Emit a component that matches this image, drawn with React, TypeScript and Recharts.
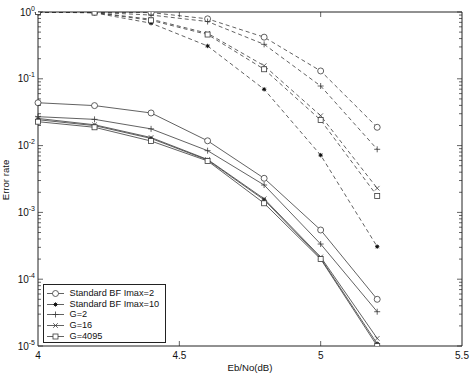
import React from "react"
import { LineChart, Line, XAxis, YAxis } from "recharts"

// Eb/No (dB) sample points
const ebno = [4, 4.2, 4.4, 4.6, 4.8, 5.0, 5.2]

// lower group (solid curves)
const imax2Solid = [0.0438, 0.0397, 0.0308, 0.0118, 0.00324, 5.45e-4, 5.0e-5]
const imax10Solid = [0.0244, 0.0199, 0.0128, 0.00608, 0.00154, 2.06e-4, 1.08e-5]
const g2Solid = [0.0271, 0.0247, 0.0178, 0.0084, 0.00257, 3.36e-4, 3.26e-5]
const g16Solid = [0.0255, 0.0205, 0.0132, 0.0062, 0.0016, 2.15e-4, 1.3e-5]
const g4095Solid = [0.0228, 0.0188, 0.0117, 0.0059, 0.00137, 2.0e-4, 1.0e-5]

// upper group (dashed curves)
const imax2Dash = [1, 0.99, 0.98, 0.79, 0.42, 0.131, 0.0188]
const imax10Dash = [1, 0.97, 0.68, 0.31, 0.0697, 0.0072, 3.07e-4]
const g2Dash = [1, 0.99, 0.9, 0.72, 0.328, 0.078, 0.0088]
const g16Dash = [1, 0.98, 0.78, 0.48, 0.157, 0.028, 0.0023]
const g4095Dash = [1, 0.98, 0.75, 0.46, 0.139, 0.0241, 0.00176]

const xTicks = [4, 4.5, 5, 5.5]
const topTicks = [4.5, 5]
const decades = [-5, -4, -3, -2, -1]
const yTicks = [...decades.flatMap((e) => [1, 2, 3, 4, 5, 6, 7, 8, 9].map((m) => m * Math.pow(10, e))), 1]

const series = [
  { key: "imax2", name: "Standard BF Imax=2", shape: "circle", solid: imax2Solid, dashed: imax2Dash },
  { key: "imax10", name: "Standard BF Imax=10", shape: "star", solid: imax10Solid, dashed: imax10Dash },
  { key: "g2", name: "G=2", shape: "plus", solid: g2Solid, dashed: g2Dash },
  { key: "g16", name: "G=16", shape: "x", solid: g16Solid, dashed: g16Dash },
  { key: "g4095", name: "G=4095", shape: "square", solid: g4095Solid, dashed: g4095Dash },
]

const data = ebno.map((x, i) => {
  const row: Record<string, number> = { x }
  series.forEach((s) => {
    row[s.key] = s.solid[i]
    row[s.key + "Dash"] = s.dashed[i]
  })
  return row
})

const INK = "#3a3a3a"
const AXIS = "#222"
const FONT = "'Liberation Sans', Arial, Helvetica, sans-serif"

function Marker({ shape, cx, cy }: { shape: string; cx: number; cy: number }) {
  const p = { stroke: INK, strokeWidth: 0.8, fill: "none" }
  if (shape === "circle") return <circle cx={cx} cy={cy} r={3} {...p} fill="#fff" />
  if (shape === "square") return <rect x={cx - 2.5} y={cy - 2.5} width={5} height={5} {...p} fill="#fff" />
  if (shape === "plus")
    return <path d={`M${cx - 3},${cy}H${cx + 3}M${cx},${cy - 3}V${cy + 3}`} {...p} />
  if (shape === "x")
    return (
      <path d={`M${cx - 2.3},${cy - 2.3}L${cx + 2.3},${cy + 2.3}M${cx - 2.3},${cy + 2.3}L${cx + 2.3},${cy - 2.3}`} {...p} />
    )
  // star: small asterisk
  return (
    <g>
      <circle cx={cx} cy={cy} r={1.3} fill="#111" />
      <path
        d={`M${cx - 2.2},${cy}H${cx + 2.2}M${cx},${cy - 2.2}V${cy + 2.2}M${cx - 1.6},${cy - 1.6}L${cx + 1.6},${cy + 1.6}M${cx - 1.6},${cy + 1.6}L${cx + 1.6},${cy - 1.6}`}
        stroke="#111"
        strokeWidth={0.9}
        fill="none"
      />
    </g>
  )
}

const isMajor = (v: number) => {
  const l = Math.log10(v)
  return Math.abs(l - Math.round(l)) < 1e-6
}

const LeftTick = (props: any) => {
  const { x, y, payload } = props
  const v = payload.value
  const major = isMajor(v)
  return (
    <g>
      <line x1={x} x2={x + (major ? 5 : 3)} y1={y} y2={y} stroke={AXIS} strokeWidth={0.7} />
      {major && (
        <text x={x - 3} y={y + 3.5} textAnchor="end" fontSize={10} fontFamily={FONT} fill="#111">
          10
          <tspan dy={-5} fontSize={7}>
            {Math.round(Math.log10(v))}
          </tspan>
        </text>
      )}
    </g>
  )
}

const RightTick = (props: any) => {
  const { x, y, payload } = props
  const major = isMajor(payload.value)
  return <line x1={x} x2={x - (major ? 5 : 3)} y1={y} y2={y} stroke={AXIS} strokeWidth={0.7} />
}

const BottomTick = (props: any) => {
  const { x, y, payload } = props
  const inner = payload.value > 4 && payload.value < 5.5
  return (
    <g>
      {inner && <line x1={x} x2={x} y1={y} y2={y - 5} stroke={AXIS} strokeWidth={0.7} />}
      <text x={x} y={y + 12.5} textAnchor="middle" fontSize={10} fontFamily={FONT} fill="#111">
        {payload.value}
      </text>
    </g>
  )
}

const TopTick = (props: any) => {
  const { x, y } = props
  return <line x1={x} x2={x} y1={y} y2={y + 5} stroke={AXIS} strokeWidth={0.7} />
}

function LegendBox() {
  return (
    <div
      style={{
        position: "absolute",
        left: 43,
        top: 284,
        width: 121,
        height: 57,
        border: "1px solid #222",
        background: "#fff",
        fontFamily: FONT,
        fontSize: 9.2,
        color: "#111",
      }}
    >
      {series.map((s, i) => (
        <div key={s.key} style={{ position: "absolute", left: 0, top: 3 + i * 10.7, height: 11, display: "flex", alignItems: "center" }}>
          <svg width={24} height={11} style={{ display: "block" }}>
            <line x1={3} x2={20} y1={5.5} y2={5.5} stroke={INK} strokeWidth={0.8} />
            <Marker shape={s.shape} cx={11.5} cy={5.5} />
          </svg>
          <span style={{ marginLeft: 1.5, whiteSpace: "nowrap", lineHeight: "11px" }}>{s.name}</span>
        </div>
      ))}
    </div>
  )
}

export default function App() {
  return (
    <div style={{ position: "absolute", left: 0, top: 0, width: 474, height: 374, background: "#fff" }}>
      <LineChart width={474} height={374} data={data} margin={{ top: 0, right: 0, bottom: 0, left: 0 }}>
        <XAxis
          xAxisId="bottom"
          dataKey="x"
          type="number"
          domain={[4, 5.5]}
          ticks={xTicks}
          interval={0}
          height={28}
          tickSize={0}
          tickMargin={0}
          tickLine={false}
          tick={<BottomTick />}
          axisLine={{ stroke: AXIS, strokeWidth: 1 }}
          label={{ value: "Eb/No(dB)", position: "insideBottom", offset: 3, fontSize: 9.6, fontFamily: FONT, fill: "#111" }}
        />
        <XAxis
          xAxisId="top"
          orientation="top"
          dataKey="x"
          type="number"
          domain={[4, 5.5]}
          ticks={topTicks}
          interval={0}
          height={12}
          tickSize={0}
          tickMargin={0}
          tickLine={false}
          tick={<TopTick />}
          axisLine={{ stroke: AXIS, strokeWidth: 1 }}
        />
        <YAxis
          yAxisId="left"
          scale="log"
          domain={[1e-5, 1]}
          allowDataOverflow
          ticks={yTicks}
          interval={0}
          width={38}
          tickSize={0}
          tickMargin={0}
          tickLine={false}
          tick={<LeftTick />}
          axisLine={{ stroke: AXIS, strokeWidth: 1 }}
          label={{
            content: () => (
              <text x={9} y={180} transform="rotate(-90,9,180)" textAnchor="middle" fontSize={9.6} fontFamily={FONT} fill="#111">
                Error rate
              </text>
            ),
          }}
        />
        <YAxis
          yAxisId="right"
          orientation="right"
          scale="log"
          domain={[1e-5, 1]}
          allowDataOverflow
          ticks={yTicks}
          interval={0}
          width={12}
          tickSize={0}
          tickMargin={0}
          tickLine={false}
          tick={<RightTick />}
          axisLine={{ stroke: AXIS, strokeWidth: 1 }}
        />
        {series.map((s) => (
          <Line
            key={s.key + "Dash"}
            xAxisId="bottom"
            yAxisId="left"
            type="linear"
            dataKey={s.key + "Dash"}
            stroke={INK}
            strokeWidth={0.8}
            strokeDasharray="4 3"
            dot={(p: any) => <Marker key={`${s.key}d-${p.index}`} shape={s.shape} cx={p.cx} cy={p.cy} />}
            activeDot={false}
            isAnimationActive={false}
          />
        ))}
        {series.map((s) => (
          <Line
            key={s.key}
            xAxisId="bottom"
            yAxisId="left"
            type="linear"
            dataKey={s.key}
            name={s.name}
            stroke={INK}
            strokeWidth={0.8}
            dot={(p: any) => <Marker key={`${s.key}-${p.index}`} shape={s.shape} cx={p.cx} cy={p.cy} />}
            activeDot={false}
            isAnimationActive={false}
          />
        ))}
      </LineChart>
      <LegendBox />
    </div>
  )
}
